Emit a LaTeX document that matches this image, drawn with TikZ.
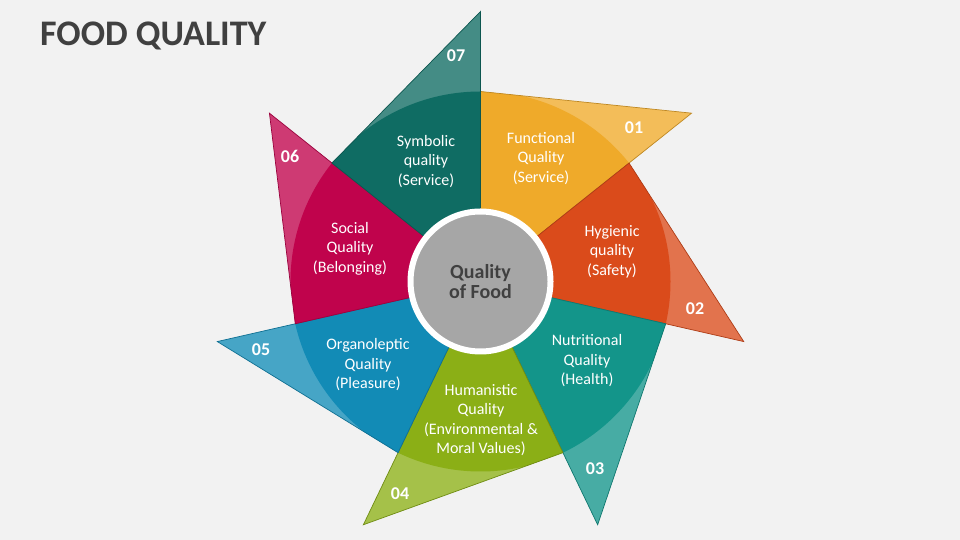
\documentclass[tikz,border=0pt]{standalone}
\usepackage{fontspec}
\setmainfont{Carlito}
\definecolor{pagegray}{HTML}{F2F2F2}
\definecolor{titlegray}{HTML}{404040}
\definecolor{hubgray}{HTML}{A6A6A6}
\definecolor{cone}{HTML}{EFAA2A}
\definecolor{ctwo}{HTML}{DA4B1B}
\definecolor{cthree}{HTML}{13958A}
\definecolor{cfour}{HTML}{8BAF16}
\definecolor{cfive}{HTML}{128BB6}
\definecolor{csix}{HTML}{C0034C}
\definecolor{cseven}{HTML}{0F6C63}

\begin{document}
\begin{tikzpicture}[
    x=1pt, y=1pt,
    blade/.style={fill=#1!78!white, draw=#1!80!black, line width=0.7pt,
      path picture={\fill[#1] (ctr) circle (190pt);}},
    bladetext/.style={text=white, align=center, font=\fontsize{16}{19.5}\selectfont},
    numtext/.style={text=white, font=\fontsize{18}{20}\selectfont\bfseries},
    hub/.style={circle, fill=hubgray, draw=white, line width=6pt, minimum size=140pt,
      inner sep=0pt, align=center, text=titlegray, font=\fontsize{20}{20}\selectfont\bfseries}
]

% Page and title
\fill[pagegray] (0,0) rectangle (960,540);
\useasboundingbox (0,0) rectangle (960,540);
\node (title) [anchor=base west, text=titlegray, font=\fontsize{36}{40}\selectfont\bfseries, inner sep=0pt]
  at (40,494) {FOOD QUALITY};

\begin{scope}[shift={(480.5,258.5)}]
\coordinate (ctr) at (0,0);

% Blades
\path [blade=cone]   (ctr) -- (90:190pt)       -- (38.571:270pt)   -- cycle;
\path [blade=ctwo]   (ctr) -- (38.571:190pt)   -- (-12.857:270pt)  -- cycle;
\path [blade=cthree] (ctr) -- (-12.857:190pt)  -- (-64.286:270pt)  -- cycle;
\path [blade=cfour]  (ctr) -- (-64.286:190pt)  -- (-115.714:270pt) -- cycle;
\path [blade=cfive]  (ctr) -- (-115.714:190pt) -- (-167.143:270pt) -- cycle;
\path [blade=csix]   (ctr) -- (-167.143:190pt) -- (141.429:270pt)  -- cycle;
\path [blade=cseven] (ctr) -- (141.429:190pt)  -- (90:270pt)       -- cycle;

% Blade texts
\node (q1) [bladetext] at (60.5,123)     {Functional\\Quality\\(Service)};
\node (q2) [bladetext] at (131.5,30)     {Hygienic\\quality\\(Safety)};
\node (q3) [bladetext] at (106.5,-79.5)  {Nutritional\\Quality\\(Health)};
\node (q4) [bladetext] at (0.5,-138.5)   {Humanistic\\Quality\\(Environmental \&\\Moral Values)};
\node (q5) [bladetext] at (-112.5,-83.5) {Organoleptic\\Quality\\(Pleasure)};
\node (q6) [bladetext] at (-130.5,33)    {Social\\Quality\\(Belonging)};
\node (q7) [bladetext] at (-54.5,120)    {Symbolic\\quality\\(Service)};

% Numbers
\node (n1) [numtext] at (153.5,153.5)  {01};
\node (n2) [numtext] at (214.5,-27.5)  {02};
\node (n3) [numtext] at (114.5,-187.5) {03};
\node (n4) [numtext] at (-80.5,-212.5) {04};
\node (n5) [numtext] at (-219.5,-68.5) {05};
\node (n6) [numtext] at (-190.5,125.5) {06};
\node (n7) [numtext] at (-24.5,225.5)  {07};

% Hub
\node (hubnode) [hub] at (ctr) {Quality\\of Food};
\end{scope}
\end{tikzpicture}
\end{document}
